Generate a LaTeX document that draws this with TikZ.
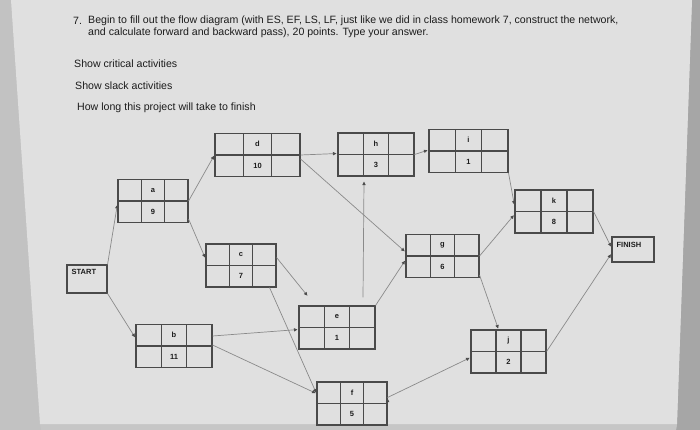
\documentclass[tikz,border=0pt]{standalone}
\usepackage{fontspec}
\setmainfont{Liberation Sans}
\usetikzlibrary{arrows.meta,calc}

\definecolor{desk}{HTML}{C2C2C2}
\definecolor{deskdark}{HTML}{A6A6A6}
\definecolor{deskfloor}{HTML}{C6C6C6}
\definecolor{paper}{HTML}{E0E0E0}
\definecolor{boxline}{HTML}{4A4A4A}
\definecolor{flowline}{HTML}{8A8A8A}
\definecolor{ink}{HTML}{1C1C1C}

% activity box: name, x, y, width, letter, duration
\newcommand{\activity}[6]{%
  \node[activity,minimum width=#4] (#1) at (#2,#3) {};
  \node[cell] (#1-name) at ([yshift=10.75pt]#1.center) {#5};
  \node[cell] (#1-time) at ([yshift=-10.75pt]#1.center) {#6};
}

\begin{document}
\begin{tikzpicture}[x=1pt,y=-1pt,
    activity/.style={draw=boxline,line width=1.1pt,minimum height=43pt,inner sep=0pt,
      path picture={
        \draw[boxline,line width=1.1pt]
          ($(path picture bounding box.north west)!1/3!(path picture bounding box.north east)$) --
          ($(path picture bounding box.south west)!1/3!(path picture bounding box.south east)$)
          ($(path picture bounding box.north west)!2/3!(path picture bounding box.north east)$) --
          ($(path picture bounding box.south west)!2/3!(path picture bounding box.south east)$)
          (path picture bounding box.west) -- (path picture bounding box.east);}},
    cell/.style={inner sep=0pt,text=ink,font=\fontsize{7.5}{8}\selectfont\bfseries},
    terminal/.style={draw=boxline,line width=1.1pt,inner sep=0pt},
    header/.style={anchor=west,inner sep=0pt,text=ink,font=\fontsize{10.6}{12}\selectfont},
    >={Triangle[length=3.5pt,width=3.2pt,color=boxline]},
    flow/.style={->,draw=flowline,line width=0.7pt,shorten >=1pt}]
\useasboundingbox (0,0) rectangle (700,430);
\fill[desk] (0,0) rectangle (700,430);
\fill[deskdark] (692,0) -- (700,0) -- (700,430) -- (676,430) -- (677,424) -- cycle;
\fill[deskfloor] (40,424) -- (677,424) -- (676,430) -- (41,430) -- cycle;
\fill[paper] (11,0) -- (692,0) -- (677,424) -- (40,424) -- cycle;

\node[header] (qnum)   at (73,21) {7.};
\node[header] (qline1) at (88,21) {Begin to fill out the flow diagram (with ES, EF, LS, LF, just like we did in class homework 7, construct the network,};
\node[header] (qline2) at (88,33) {and calculate forward and backward pass), 20 points. Type your answer.};
\node[header] (qcrit)  at (74,64) {Show critical activities};
\node[header] (qslack) at (75,86) {Show slack activities};
\node[header] (qlong)  at (77,108) {How long this project will take to finish};

\node[terminal,minimum width=40pt,minimum height=28pt] (start) at (87,279) {};
\node[cell,anchor=west] (start-text) at ([xshift=5pt,yshift=7pt]start.west) {START};
\node[terminal,minimum width=42pt,minimum height=25pt] (finish) at (633,249.5) {};
\node[cell,anchor=west] (finish-text) at ([xshift=5pt,yshift=5pt]finish.west) {FINISH};

\activity{a}{153}{201}{70pt}{a}{9}
\activity{d}{257.5}{155}{85pt}{d}{10}
\activity{h}{376}{154.5}{76pt}{h}{3}
\activity{i}{468.5}{151}{79pt}{i}{1}
\activity{k}{554}{211.5}{78pt}{k}{8}
\activity{g}{442.5}{256}{73pt}{g}{6}
\activity{c}{241}{265.5}{70pt}{c}{7}
\activity{b}{174}{346}{76pt}{b}{11}
\activity{e}{337}{327.5}{76pt}{e}{1}
\activity{j}{508.5}{351.5}{75pt}{j}{2}
\activity{f}{352}{403.5}{70pt}{f}{5}

\path[flow] (start.north east) edge ([yshift=-3pt]a.west)
            (start.south east) edge ([yshift=8pt]b.west)
            (a.east)           edge (d.west)
            ([yshift=-18pt]a.east) edge ([yshift=7pt]c.west)
            (d.east)           edge ([yshift=1pt]h.west)
            ([yshift=-4pt]d.east) edge ([yshift=4pt]g.west)
            (h.east)           edge ([yshift=1pt]i.west)
            (i.south east)     edge ([yshift=6pt]k.west)
            (k.east)           edge ([yshift=2pt]finish.west)
            (g.east)           edge ([yshift=-3pt]k.west)
            ([yshift=3pt]g.south east) edge ([xshift=-10pt]j.north)
            (j.east)           edge ([yshift=-4pt]finish.west)
            ([xshift=26pt,yshift=8pt]e.north) edge ([xshift=-12pt,yshift=-4pt]h.south)
            (e.north east)     edge ([yshift=-4pt]g.west)
            ([yshift=8pt]c.east) edge ([xshift=-29pt,yshift=9pt]e.north)
            ([xshift=-7pt]c.south east) edge ([yshift=10pt]f.west)
            ([yshift=10pt]b.east) edge ([yshift=-2pt]e.west)
            ([yshift=1pt]b.east) edge ([yshift=10pt]f.west)
            ([yshift=6pt]f.east) edge ([yshift=-6pt]j.west);
\end{tikzpicture}
\end{document}
